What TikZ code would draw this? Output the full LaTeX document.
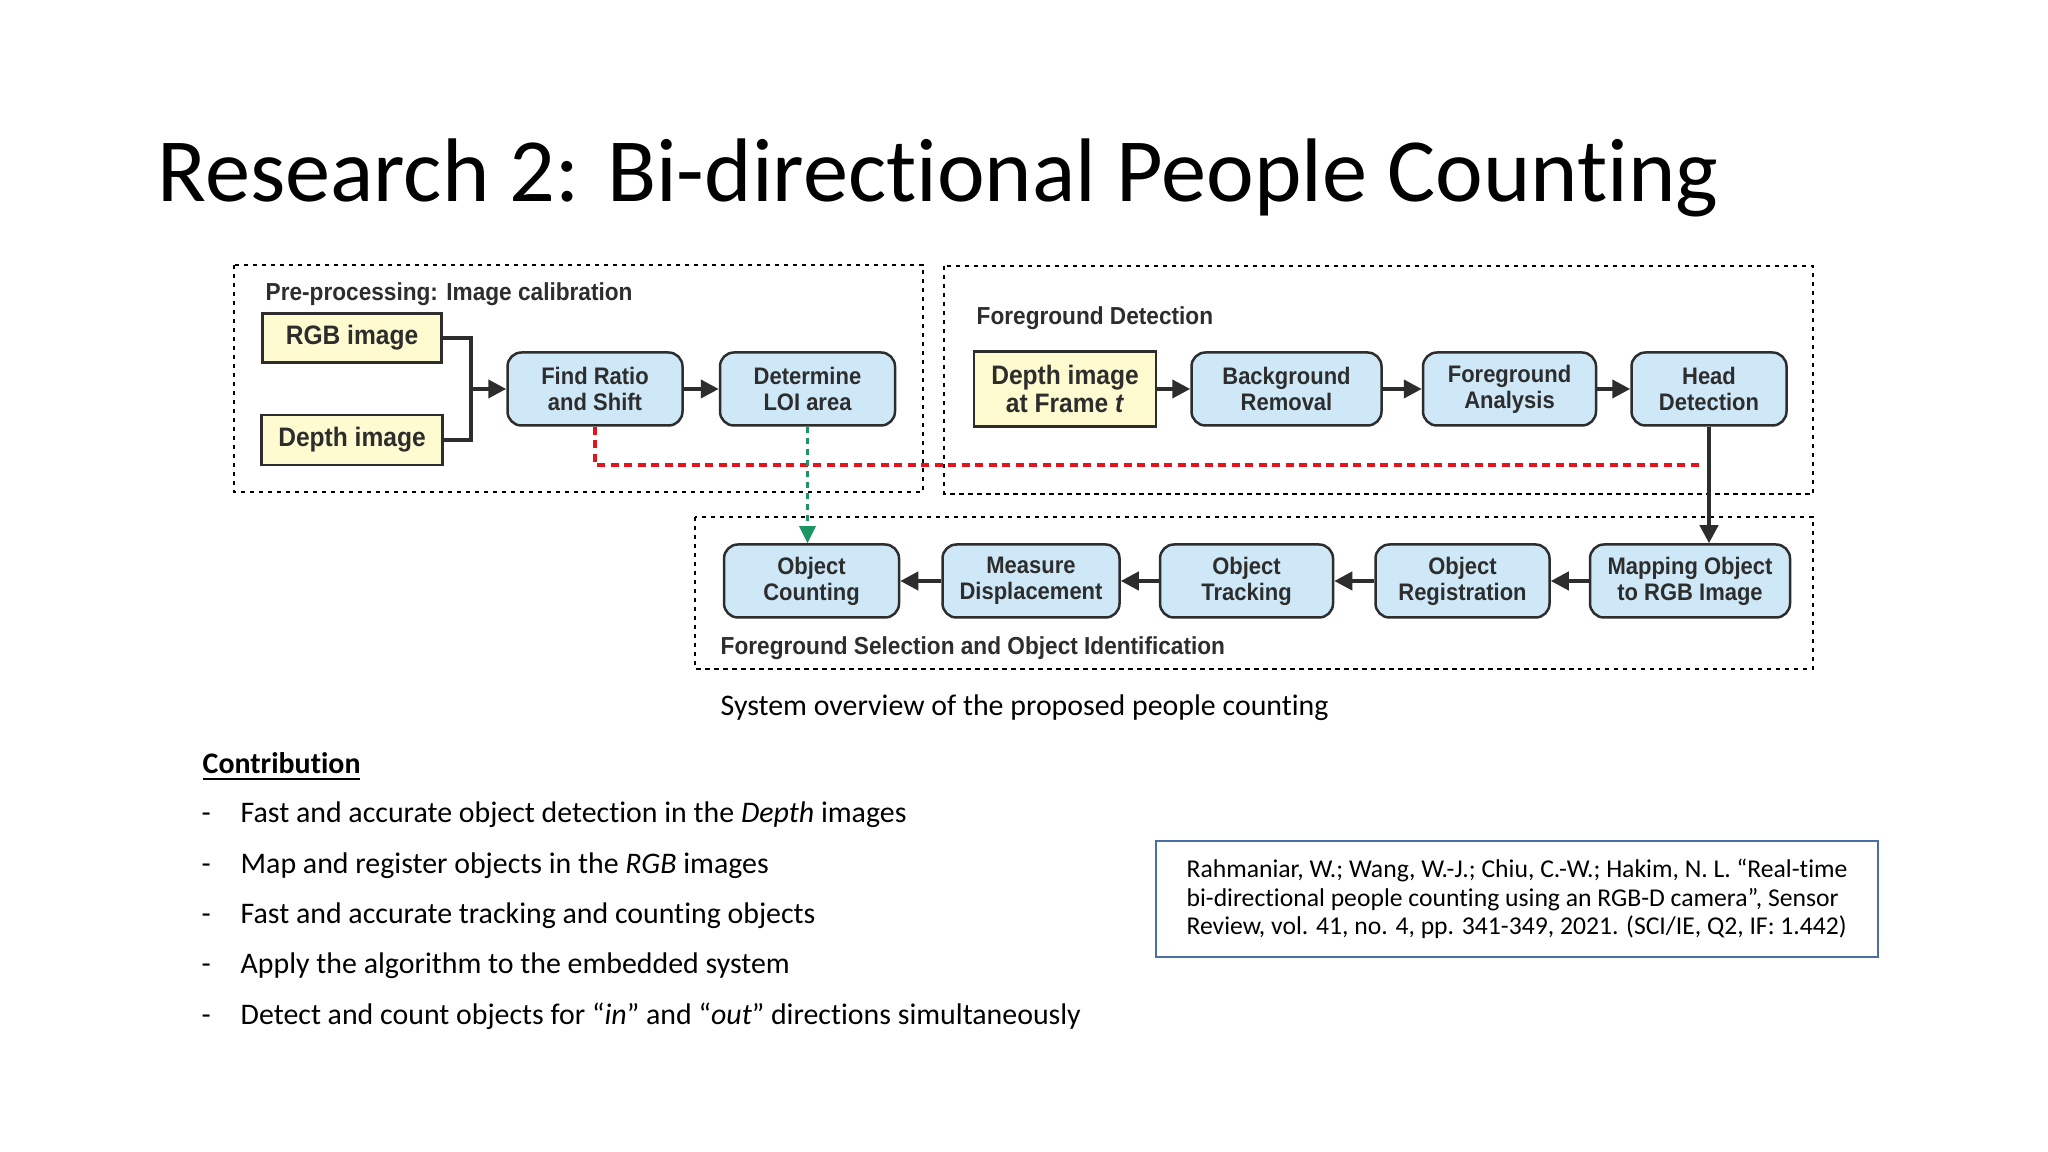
\documentclass[tikz,border=0pt]{standalone}
\usepackage{fontspec}
\setmainfont{Carlito}[Ligatures={TeX,NoCommon}]
\newfontfamily\diagfont[FakeStretch=0.92]{Liberation Sans}
\usepackage{tikz}
\usetikzlibrary{arrows.meta, positioning}
\definecolor{stageblue}{RGB}{207, 232, 248}
\definecolor{inputyellow}{RGB}{255, 251, 208}
\definecolor{edgegray}{RGB}{45, 45, 45}
\definecolor{dashred}{RGB}{228, 20, 28}
\definecolor{dashgreen}{RGB}{30, 150, 100}
\definecolor{citeblue}{RGB}{74, 111, 165}

\begin{document}
\begin{tikzpicture}[x=0.1mm, y=-0.1mm,
    stage/.style={draw=edgegray, line width=0.25mm, rounded corners=1.4mm, fill=stageblue,
                  minimum height=7.3mm, inner sep=0.5mm, align=center, text=edgegray,
                  font=\diagfont\bfseries\fontsize{6.8}{7.4}\selectfont},
    source/.style={draw=edgegray, line width=0.25mm, fill=inputyellow, inner sep=0.5mm,
                   align=center, text=edgegray, font=\diagfont\bfseries\fontsize{7.6}{8.2}\selectfont},
    group/.style={draw=black, line width=0.22mm, dash pattern=on 0.45mm off 0.45mm},
    grouplabel/.style={anchor=west, inner sep=0pt, text=edgegray,
                       font=\diagfont\bfseries\fontsize{7}{8}\selectfont},
    link/.style={draw=edgegray, line width=0.4mm},
    flow/.style={link, -{Triangle[length=1.8mm, width=1.8mm]}},
    body/.style={anchor=west, inner sep=0pt, font=\fontsize{8.5}{10}\selectfont},
    citebox/.style={draw=citeblue, line width=0.2mm, minimum width=72.2mm, minimum height=11.6mm,
                    align=left, inner xsep=3mm, font=\fontsize{7.3}{8.1}\selectfont}
]
    \fill[white] (0,0) rectangle (2048,1152);
    \useasboundingbox (0,0) rectangle (2048,1152);

    % title
    \node[anchor=base west, inner sep=0pt, font=\fontsize{25.7}{30}\selectfont] (title) at (157,202)
        {Research 2: Bi-directional People Counting};

    % group frames
    \draw[group] (234,265) rectangle (923,492);
    \draw[group] (944,266) rectangle (1813,494);
    \draw[group] (695,517) rectangle (1813,669);
    \node[grouplabel] (prelabel) at (265,294) {Pre-processing: Image calibration};
    \node[grouplabel] (fglabel) at (976,318) {Foreground Detection};
    \node[grouplabel] (sellabel) at (720,648) {Foreground Selection and Object Identification};

    % pre-processing
    \node[source, minimum width=17.9mm, minimum height=4.9mm] (rgb) at (352,338) {RGB image};
    \node[source, minimum width=18.1mm, minimum height=5mm] (depth) at (352,440) {Depth image};
    \node[stage, minimum width=17.5mm] (ratio) at (595,389) {Find Ratio\\and Shift};
    \node[stage, minimum width=17.5mm, right=3.5mm of ratio] (loi) {Determine\\LOI area};
    \coordinate (merge) at (471,389);

    % foreground detection
    \node[source, minimum width=18.2mm, minimum height=7.5mm] (frame) at (1065,389) {Depth image\\at Frame \textit{t}};
    \node[stage, minimum width=19mm, right=3.3mm of frame] (bgremove) {Background\\Removal};
    \node[stage, minimum width=17.3mm, right=3.9mm of bgremove] (fganalysis) {Foreground\\Analysis};
    \node[stage, minimum width=15.5mm, right=3.3mm of fganalysis] (head) {Head\\Detection};

    % selection and identification
    \node[stage, minimum width=20mm] (mapping) at (1690,581) {Mapping Object\\to RGB Image};
    \node[stage, minimum width=17.4mm, left=3.8mm of mapping] (register) {Object\\Registration};
    \node[stage, minimum width=17.3mm, left=4mm of register] (tracking) {Object\\Tracking};
    \node[stage, minimum width=17.7mm, left=3.8mm of tracking] (displace) {Measure\\Displacement};
    \node[stage, minimum width=17.5mm, left=4.1mm of displace] (counting) {Object\\Counting};
    \coordinate (redend) at (1704,465);

    % connectors
    \draw[link] (rgb.east) -| (merge);
    \draw[link] (depth.east) -| (merge);
    \draw[flow] (merge) -- (ratio.west);
    \draw[flow] (ratio) -- (loi);
    \draw[flow] (frame) -- (bgremove);
    \draw[flow] (bgremove) -- (fganalysis);
    \draw[flow] (fganalysis) -- (head);
    \draw[flow] (head.south) -- (head.south |- mapping.north);
    \draw[flow] (mapping) -- (register);
    \draw[flow] (register) -- (tracking);
    \draw[flow] (tracking) -- (displace);
    \draw[flow] (displace) -- (counting);
    \draw[dashred, line width=0.36mm, dash pattern=on 0.8mm off 0.55mm] (ratio.south) |- (redend);
    \draw[dashgreen, line width=0.3mm, dash pattern=on 0.6mm off 0.5mm,
          -{Triangle[length=1.7mm, width=1.6mm]}] (loi.south) -- (loi.south |- counting.north);

    \node[body] (caption) at (720,708) {System overview of the proposed people counting};

    % contribution list
    \node[body, font=\bfseries\fontsize{8.5}{10}\selectfont] (contrib) at (202,767) {\underline{Contribution}};
    \node[body] (item1) at (201,815) {\makebox[3.9mm][l]{-}Fast and accurate object detection in the \textit{Depth} images};
    \node[body] (item2) at (201,866) {\makebox[3.9mm][l]{-}Map and register objects in the \textit{RGB} images};
    \node[body] (item3) at (201,916) {\makebox[3.9mm][l]{-}Fast and accurate tracking and counting objects};
    \node[body] (item4) at (201,966) {\makebox[3.9mm][l]{-}Apply the algorithm to the embedded system};
    \node[body] (item5) at (201,1016) {\makebox[3.9mm][l]{-}Detect and count objects for “\textit{in}” and “\textit{out}” directions simultaneously};

    \node[citebox] (cite) at (1517,899) {Rahmaniar, W.; Wang, W.-J.; Chiu, C.-W.; Hakim, N. L. “Real-time\\
        bi-directional people counting using an RGB-D camera”, Sensor\\
        Review, vol. 41, no. 4, pp. 341-349, 2021. (SCI/IE, Q2, IF: 1.442)};
\end{tikzpicture}
\end{document}
